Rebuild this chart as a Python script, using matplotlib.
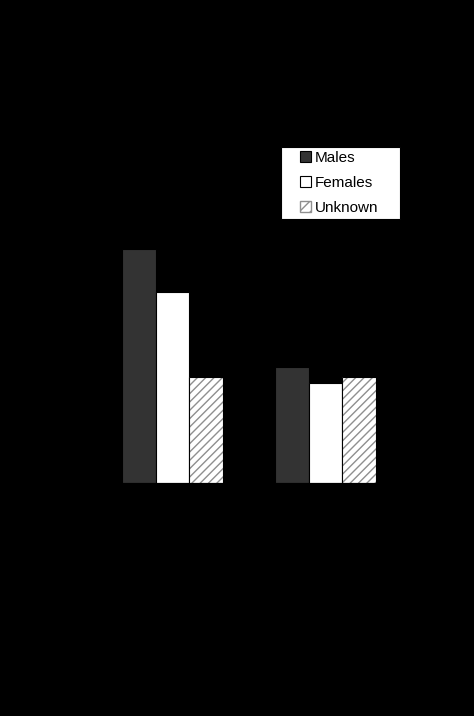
import numpy as np
from matplotlib import pyplot as plt
from matplotlib.patches import Rectangle

groups = ['Group 1', 'Group 2']
series = ['Males', 'Females', 'Unknown']
males = [44.2, 21.9]
females = [36.0, 18.9]
unknown = [20.0, 20.0]

W, H = 474, 716
plt.rcParams['font.family'] = ['Liberation Sans', 'DejaVu Sans']
plt.rcParams['hatch.linewidth'] = 1.0

fig = plt.figure(figsize=(W / 100, H / 100), dpi=100, facecolor='black')
# axes placed in pixel coords of the reference
ax = fig.add_axes([96 / W, (H - 483) / H, 306 / W, 318 / H])
ax.set_facecolor('black')

x = np.arange(len(groups))
width = 0.22
hatch_gray = '#8f8f8f'

h_m = ax.bar(x - width, males, width, color='#333333', edgecolor='black', linewidth=0.8)
h_f = ax.bar(x, females, width, color='white', edgecolor='black', linewidth=0.8)
# hatch colour follows edgecolor, so draw the hatch in gray then outline in black
h_u = ax.bar(x + width, unknown, width, color='white', edgecolor=hatch_gray,
             hatch='////', linewidth=0)
ax.bar(x + width, unknown, width, fill=False, edgecolor='black', linewidth=0.8)

ax.set_xlim(-0.5, 1.5)
ax.set_ylim(0, 60)
ax.set_xticks(x)
ax.set_xticklabels(groups, color='black')
ax.tick_params(colors='black')
for s in ax.spines.values():
    s.set_color('black')

# white legend box
fig.patches.append(Rectangle((281 / W, 1 - 219 / H), 119 / W, 72 / H,
                             transform=fig.transFigure, facecolor='white',
                             edgecolor='black', linewidth=0.8, zorder=1))
leg_u = Rectangle((0, 0), 1, 1, facecolor='white', edgecolor=hatch_gray, hatch='///')
leg = fig.legend(handles=[h_m, h_f, leg_u], labels=series, loc='center',
                 bbox_to_anchor=(339 / W, 1 - 183 / H), frameon=False,
                 fontsize=11, handlelength=0.7, handleheight=0.7,
                 handletextpad=0.25, labelspacing=0.72, borderpad=0)
leg.set_zorder(2)
for p in leg.get_patches()[:2]:
    p.set_edgecolor('black')

fig.savefig('out.png', dpi=100, facecolor='black')
